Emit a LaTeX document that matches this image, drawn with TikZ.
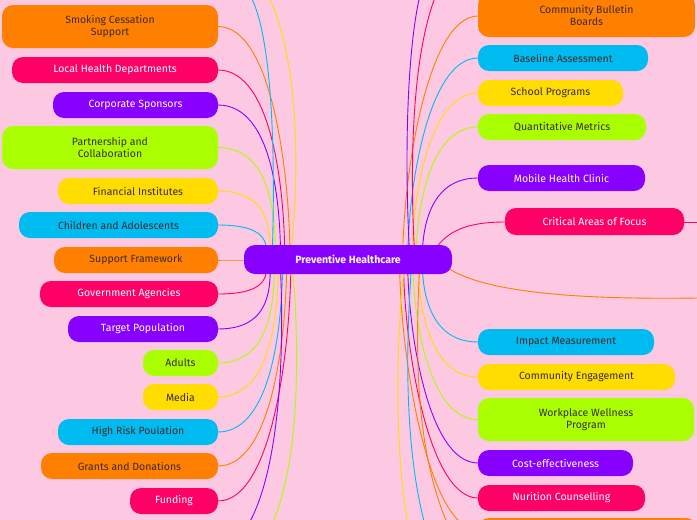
\documentclass[tikz,border=0pt]{standalone}
\usepackage{fontspec}
\setmainfont{Fira Sans}
\definecolor{bg}{HTML}{FDC9E2}
\definecolor{cor}{HTML}{FF7F00}
\definecolor{cpk}{HTML}{FF0066}
\definecolor{cpu}{HTML}{8800FF}
\definecolor{cgr}{HTML}{AAFF00}
\definecolor{cye}{HTML}{FFDD00}
\definecolor{ccy}{HTML}{00BBF0}
\definecolor{ctx}{HTML}{3A2A2A}
\begin{document}
\begin{tikzpicture}[x=1pt,y=-1pt,
  box/.style={rounded corners=11pt,inner sep=0pt,minimum height=26pt,align=center,font=\fontsize{10.5}{12.5}\selectfont,text=ctx},
  ln/.style={line width=0.9pt}]
\fill[bg] (0,0) rectangle (697,520);
\useasboundingbox (0,0) rectangle (697,520);
\newcommand\bx[8]{\node[box,fill=#5,text=#7,minimum width={#3-#2},minimum height=#4] (#1) at ({(#2+#3)/2},#6) {#8};}
\foreach \b/\y/\c in {
 218/26.5/cor, 218/70/cpk, 218/105/cpu,
 218/147.5/cgr, 218/191/cye, 218/225/ccy,
 218/260/cor, 218/294/cpk, 218/329/cpu,
 218/363/cgr, 218/397/cye, 218/432/ccy,
 218/466/cor, 218/501/cpk}{
 \pgfmathsetmacro\cy{260+0.35*(\y-260)}
 \pgfmathsetmacro\cx{262+0.12*abs(\y-260)}
 \draw[ln,\c] (\b,\y) .. controls (\b+55,\y) and (\cx,\cy) .. (\cx,260);
}
\foreach \a/\y/\c in {
 478/16/cor, 478/58/ccy, 478/93/cye, 478/127/cgr,
 478/178/cpu, 478/342/ccy, 478/377/cye,
 478/419.5/cgr, 478/463/cpu, 478/498/cpk, 478/530/cor}{
 \pgfmathsetmacro\cy{260+0.35*(\y-260)}
 \pgfmathsetmacro\cx{432-0.12*abs(\y-260)}
 \draw[ln,\c] (\a,\y) .. controls (\a-50,\y) and (\cx,\cy) .. (\cx,260);
}
\draw[ln,cpk] (505,222) .. controls (460,222) and (440,235) .. (430,260);
\draw[ln,cpk] (684,222) -- (697,222);
\draw[ln,cor] (697,298) .. controls (560,300) and (470,290) .. (440,262);
\draw[ln,ccy] (250,-5) .. controls (275,40) and (275,180) .. (272,260);
\draw[ln,cye] (268,-5) .. controls (300,60) and (300,180) .. (290,260);
\draw[ln,cpu] (248,525) .. controls (280,470) and (285,350) .. (280,260);
\draw[ln,cgr] (272,525) .. controls (300,460) and (300,350) .. (292,260);
\draw[ln,cpu] (420,-5) .. controls (405,60) and (405,180) .. (410,260);
\draw[ln,cpk] (436,-5) .. controls (410,60) and (410,180) .. (415,260);
\draw[ln,cye] (408,525) .. controls (395,450) and (395,350) .. (405,260);
\draw[ln,ccy] (425,525) .. controls (405,450) and (405,350) .. (412,260);
\draw[ln,cor] (448,525) .. controls (415,450) and (415,350) .. (420,260);
\bx{c}{244}{452}{29}{cpu}{259.5}{white}{\bfseries Preventive Healthcare}
\bx{l1}{2}{218}{43}{cor}{26.5}{ctx}{Smoking Cessation\\Support}
\bx{l2}{12}{218}{26}{cpk}{70}{white}{Local Health Departments}
\bx{l3}{53}{218}{26}{cpu}{105}{white}{Corporate Sponsors}
\bx{l4}{2}{218}{43}{cgr}{147.5}{ctx}{Partnership and\\Collaboration}
\bx{l5}{58}{218}{26}{cye}{191}{ctx}{Financial Institutes}
\bx{l6}{19}{218}{26}{ccy}{225}{ctx}{Children and Adolescents}
\bx{l7}{54}{218}{26}{cor}{260}{ctx}{Support Framework}
\bx{l8}{40}{218}{26}{cpk}{294}{white}{Government Agencies}
\bx{l9}{68}{218}{26}{cpu}{329}{white}{Target Population}
\bx{l10}{143}{218}{26}{cgr}{363}{ctx}{Adults}
\bx{l11}{143}{218}{26}{cye}{397}{ctx}{Media}
\bx{l12}{58}{218}{26}{ccy}{432}{ctx}{High Risk Poulation}
\bx{l13}{41}{218}{26}{cor}{466}{ctx}{Grants and Donations}
\bx{l14}{130}{218}{26}{cpk}{501}{white}{Funding}
\bx{r1}{478}{695}{43}{cor}{15.5}{ctx}{Community Bulletin\\Boards}
\bx{r2}{478}{648}{26}{ccy}{58}{ctx}{Baseline Assessment}
\bx{r3}{478}{623}{26}{cye}{93}{ctx}{School Programs}
\bx{r4}{478}{646}{26}{cgr}{127}{ctx}{Quantitative Metrics}
\bx{r5}{478}{645}{26}{cpu}{178}{white}{Mobile Health Clinic}
\bx{r6}{505}{684}{27}{cpk}{221.5}{white}{Critical Areas of Focus}
\bx{r7}{478}{654}{26}{ccy}{342}{ctx}{Impact Measurement}
\bx{r8}{478}{675}{26}{cye}{377}{ctx}{Community Engagement}
\bx{r9}{478}{694}{43}{cgr}{419.5}{ctx}{Workplace Wellness\\Program}
\bx{r10}{478}{633}{26}{cpu}{463}{white}{Cost-effectiveness}
\bx{r11}{478}{645}{26}{cpk}{498}{white}{Nurition Counselling}
\fill[cor,rounded corners=11pt] (478,518) rectangle (697,545);
\end{tikzpicture}
\end{document}
